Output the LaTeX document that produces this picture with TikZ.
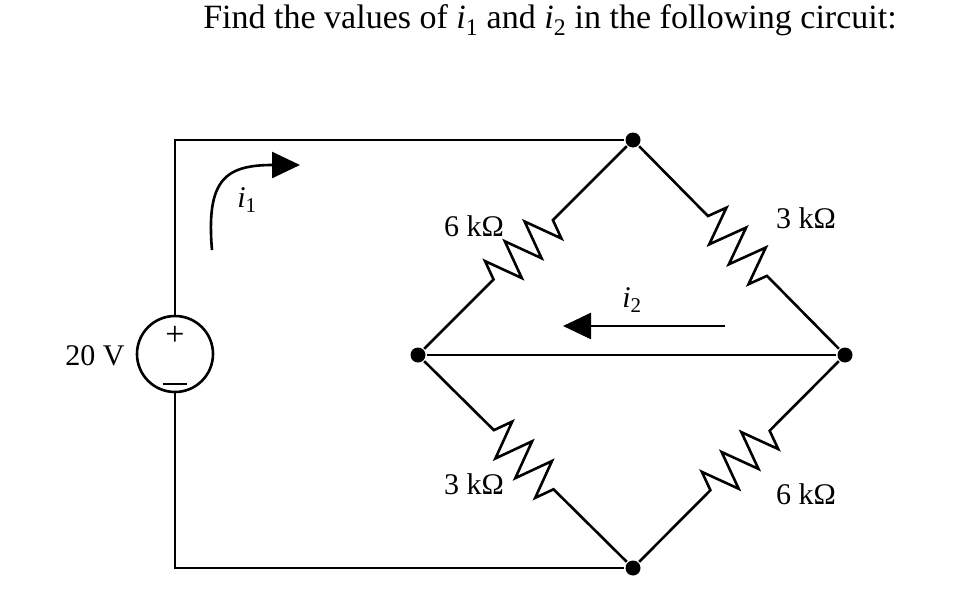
\documentclass[tikz,border=0pt]{standalone}
\usepackage{fontspec}
\setmainfont{Liberation Serif}
\usetikzlibrary{decorations.pathmorphing,arrows.meta}
\begin{document}
\begin{tikzpicture}[x=1pt,y=-1pt,line width=2.6pt,
  res/.style={decoration={zigzag,amplitude=19pt,segment length=28pt,pre length=98pt,post length=98pt},decorate},
  dot/.style={circle,fill,inner sep=0pt,minimum size=15pt},
  lbl/.style={font=\fontsize{30}{32}\selectfont},
  tip/.style={-{Triangle[length=28pt,width=26pt]}}]
\useasboundingbox (0,0) rectangle (954,589);
\node[font=\fontsize{34}{36}\selectfont] (title) at (550,20) {Find the values of \textit{i}\textsubscript{1} and \textit{i}\textsubscript{2} in the following circuit:};
\node[dot] (T) at (633,140) {};
\node[dot] (L) at (418,355) {};
\node[dot] (R) at (845,355) {};
\node[dot] (B) at (633,568) {};
\node[circle,draw,minimum size=76pt,inner sep=0pt] (S) at (175,354) {};
\node[font=\fontsize{34}{34}\selectfont] at (175,336) {+};
\draw (163,384) -- (187,384);
\coordinate (c1) at (175,140);
\coordinate (c2) at (175,568);
\draw (S.north) -- (c1) -- (T);
\draw (S.south) -- (c2) -- (B);
\draw[res] (L) -- (T);
\draw[res] (T) -- (R);
\draw[res] (L) -- (B);
\draw[res] (R) -- (B);
\draw (L) -- (R);
\coordinate (a1) at (212,250);
\coordinate (a2) at (300,165);
\draw[tip] (a1) .. controls (206,180) and (225,165) .. (a2);
\coordinate (b1) at (725,326);
\coordinate (b2) at (563,326);
\draw[tip] (b1) -- (b2);
\node[lbl] (i1) at (247,200) {\textit{i}\textsubscript{1}};
\node[lbl] (i2) at (632,300) {\textit{i}\textsubscript{2}};
\node[lbl] (r1) at (474,226) {6 kΩ};
\node[lbl] (r2) at (806,218) {3 kΩ};
\node[lbl] (r3) at (474,484) {3 kΩ};
\node[lbl] (r4) at (806,494) {6 kΩ};
\node[lbl] (v) at (95,356) {20 V};
\end{tikzpicture}
\end{document}
